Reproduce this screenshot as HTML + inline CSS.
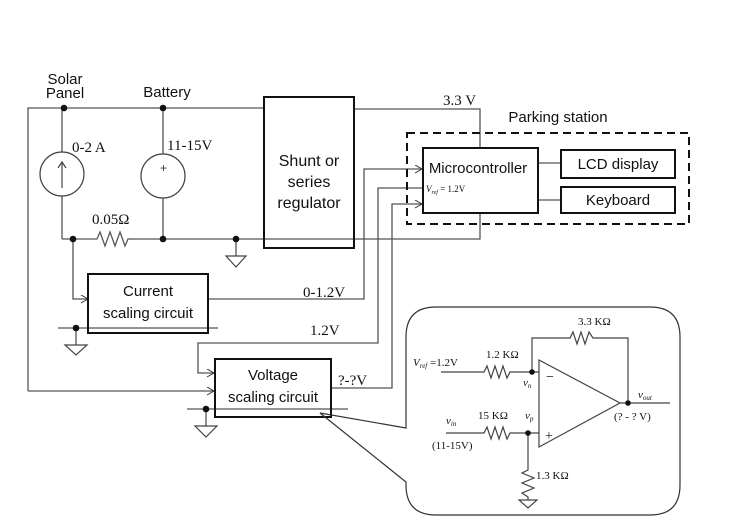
<!DOCTYPE html>
<html><head><meta charset="utf-8"><style>
html,body{margin:0;padding:0;background:#fff;}
svg{display:block;}
.s{font-family:"Liberation Sans",sans-serif;}
.r{font-family:"Liberation Serif",serif;}
</style></head><body>
<svg width="729" height="526" viewBox="0 0 729 526" xmlns="http://www.w3.org/2000/svg">
<defs>
<marker id="ar" markerWidth="10" markerHeight="10" refX="8" refY="4" orient="auto" markerUnits="userSpaceOnUse">
<path d="M1,0 L8,4 L1,8" fill="none" stroke="#333" stroke-width="1"/></marker>
</defs>
<g fill="none" stroke="#555" stroke-width="1.3">
<polyline points="28,391 28,108 264,108"/>
<polyline points="354,109 480,109 480,148"/>
<line x1="62" y1="108" x2="62" y2="152"/>
<line x1="62" y1="196" x2="62" y2="239"/>
<line x1="163" y1="108" x2="163" y2="154"/>
<line x1="163" y1="198" x2="163" y2="239"/>
<polyline points="62,239 97,239 100,232 105,246 110,232 115,246 120,232 125,246 128,239 480,239 480,213"/>
<polyline points="236,239 236,256"/>
<polyline points="73,239 73,299 88,299" marker-end="url(#ar)"/>
<polyline points="208,299 364,299 364,169 422,169" marker-end="url(#ar)"/>
<polyline points="423,188 378,188 378,343 198,343 198,373 214,373" marker-end="url(#ar)"/>
<polyline points="331,388 392,388 392,204 422,204" marker-end="url(#ar)"/>
<polyline points="28,391 214,391" marker-end="url(#ar)"/>
<line x1="538" y1="163" x2="561" y2="163"/>
<line x1="538" y1="200" x2="561" y2="200"/>
<line x1="58" y1="328" x2="218" y2="328"/>
<line x1="76" y1="328" x2="76" y2="345"/>
<line x1="187" y1="409" x2="348" y2="409"/>
<line x1="206" y1="409" x2="206" y2="426"/>
</g>
<g fill="none" stroke="#444" stroke-width="1.2">
<polygon points="226,256 246,256 236,267"/>
<polygon points="65,345 87,345 76,355"/>
<polygon points="195,426 217,426 206,437"/>
<circle cx="62" cy="174" r="22"/>
<circle cx="163" cy="176" r="22"/>
<line x1="62" y1="188" x2="62" y2="162"/>
<polyline points="58,168 62,162 66,168"/>
</g>
<text x="160" y="172" font-size="12" class="s" fill="#333">+</text>
<g fill="#111">
<circle cx="64" cy="108" r="3.3"/><circle cx="163" cy="108" r="3.3"/>
<circle cx="73" cy="239" r="3.3"/><circle cx="163" cy="239" r="3.3"/><circle cx="236" cy="239" r="3.3"/>
<circle cx="76" cy="328" r="3.3"/><circle cx="206" cy="409" r="3.3"/>
</g>
<g fill="none" stroke="#111" stroke-width="2">
<rect x="264" y="97" width="90" height="151"/>
<rect x="88" y="274" width="120" height="59"/>
<rect x="215" y="359" width="116" height="58"/>
<rect x="423" y="148" width="115" height="65"/>
<rect x="561" y="150" width="114" height="28"/>
<rect x="561" y="187" width="114" height="26"/>
</g>
<rect x="407" y="133" width="282" height="91" fill="none" stroke="#111" stroke-width="2" stroke-dasharray="8,5"/>
<path d="M406,428 L406,337 Q406,307 436,307 L650,307 Q680,307 680,337 L680,485 Q680,515 650,515 L436,515 Q406,515 406,485 L406,482 L320,413 Z" fill="none" stroke="#333" stroke-width="1.2"/>
<g fill="none" stroke="#444" stroke-width="1.2">
<polygon points="539,360 539,447 620,403"/>
<polyline points="441,372 484,372 487,366 491,378 495,366 499,378 503,366 507,378 510,372 539,372"/>
<polyline points="532,372 532,338 570,338 573,332 577,344 581,332 585,344 589,332 593,338 628,338 628,403"/>
<polyline points="620,403 670,403"/>
<polyline points="446,433 484,433 487,427 491,439 495,427 499,439 503,427 507,439 510,433 539,433"/>
<polyline points="528,433 528,470 522,473 534,478 522,483 534,488 522,493 528,497 528,500"/>
<polygon points="519,500 537,500 528,508"/>
</g>
<g fill="#111"><circle cx="532" cy="372" r="2.8"/><circle cx="528" cy="433" r="2.8"/><circle cx="628" cy="403" r="2.8"/></g>
<g class="s" fill="#111" font-size="15" text-anchor="middle">
<text x="65" y="84">Solar</text><text x="65" y="98">Panel</text>
<text x="167" y="97">Battery</text>
<text x="309" y="166" font-size="16">Shunt or</text><text x="309" y="187" font-size="16">series</text><text x="309" y="208" font-size="16">regulator</text>
<text x="148" y="296">Current</text><text x="148" y="318">scaling circuit</text>
<text x="273" y="380">Voltage</text><text x="273" y="402">scaling circuit</text>
<text x="558" y="122">Parking station</text>
<text x="478" y="173">Microcontroller</text>
<text x="618" y="169">LCD display</text>
<text x="618" y="205">Keyboard</text>
</g>
<g class="r" fill="#111" font-size="15">
<text x="72" y="152">0-2 A</text>
<text x="167" y="150">11-15V</text>
<text x="92" y="224">0.05Ω</text>
<text x="443" y="105">3.3 V</text>
<text x="303" y="297">0-1.2V</text>
<text x="310" y="335">1.2V</text>
<text x="338" y="385">?-?V</text>
</g>
<g class="r" fill="#111" font-size="11">
<text x="426" y="192" font-size="9"><tspan font-style="italic">V<tspan font-size="6" dy="2">ref</tspan></tspan><tspan dy="-2"> = 1.2V</tspan></text>
<text x="413" y="366"><tspan font-style="italic">V<tspan font-size="7" dy="2">ref</tspan></tspan><tspan dy="-2"> =1.2V</tspan></text>
<text x="486" y="358">1.2 KΩ</text>
<text x="578" y="325">3.3 KΩ</text>
<text x="478" y="419">15 KΩ</text>
<text x="536" y="479">1.3 KΩ</text>
<text x="432" y="449">(11-15V)</text>
<text x="614" y="420">(? - ? V)</text>
<text x="546" y="381" font-size="14">−</text>
<text x="545" y="440" font-size="14">+</text>
<g font-style="italic">
<text x="446" y="424">v<tspan font-size="7" dy="2">in</tspan></text>
<text x="523" y="386">v<tspan font-size="7" dy="2">n</tspan></text>
<text x="525" y="419">v<tspan font-size="7" dy="2">p</tspan></text>
<text x="638" y="398">v<tspan font-size="7" dy="2">out</tspan></text>
</g>
</g>
</svg>
</body></html>
